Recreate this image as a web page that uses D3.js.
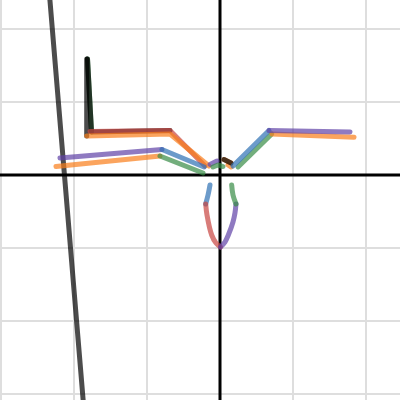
<!DOCTYPE html>
<html>
<head>
<meta charset="utf-8">
<script src="https://cdn.jsdelivr.net/npm/d3@7"></script>
<style>
  html, body { margin: 0; padding: 0; background: #fff; }
  svg { display: block; }
</style>
</head>
<body>
<div id="chart"></div>
<script>
// grid ticks (graph units)
const xTicks = [-3, -2, -1, 0, 1, 2];
const yTicks = [-3, -2, -1, 0, 1, 2];

// each stroke: colour + points [x, y]
const grayLine     = [[-2.38, 3.0], [-1.84, -3.5]];
const greenDiag    = [[-1.815, 1.589], [-1.760, 0.589]];
const blackVert    = [[-1.826, 1.589], [-1.826, 0.534]];
const blackBend    = [[-1.815, 1.589], [-1.760, 0.589], [-0.685, 0.610]];
const redUpper     = [[-1.781, 0.596], [-0.685, 0.610], [-0.205, 0.123]];
const orangeUpper  = [[-1.826, 0.534], [-0.685, 0.562], [-0.151, 0.123]];
const purpleLeft   = [[-2.192, 0.233], [-0.795, 0.349]];
const blueLeft     = [[-0.795, 0.349], [-0.219, 0.110]];
const orangeLower  = [[-2.247, 0.116], [-0.822, 0.260]];
const greenLeft    = [[-0.822, 0.260], [-0.233, 0.027]];
const purpleSmall  = [[-0.137, 0.144], [-0.041, 0.192]];
const greenSmall   = [[-0.096, 0.110], [-0.027, 0.137], [0.041, 0.116]];
const orangeSmall  = [[0.110, 0.137], [0.151, 0.110]];
const brownPiece   = [[0.055, 0.212], [0.151, 0.164]];
const blueRight    = [[0.178, 0.123], [0.671, 0.610]];
const greenRight   = [[0.247, 0.110], [0.708, 0.562]];
const purpleRight  = [[0.671, 0.610], [1.781, 0.589]];
const orangeRight  = [[0.712, 0.562], [1.836, 0.516]];
const blueBottom   = [[-0.137, -0.137], [-0.164, -0.274], [-0.196, -0.397]];
const redBottom    = [[-0.196, -0.397], [-0.178, -0.548], [-0.114, -0.822], [-0.055, -0.932], [0.007, -0.986]];
const purpleBottom = [[0.007, -0.986], [0.068, -0.918], [0.114, -0.822], [0.178, -0.644], [0.205, -0.521], [0.219, -0.397]];
const greenBottom  = [[0.219, -0.397], [0.178, -0.274], [0.160, -0.137]];

const RED = "#c74440", BLUE = "#2d70b3", GREEN = "#388c46",
      PURPLE = "#6042a6", ORANGE = "#fa7e19", BLACK = "#000000";

// drawing order matters for the overlaps
const strokes = [
    { pts: grayLine,     color: BLACK },
    { pts: greenDiag,    color: GREEN },
    { pts: blackVert,    color: BLACK },
    { pts: blackBend,    color: BLACK },
    { pts: redUpper,     color: RED },
    { pts: orangeUpper,  color: ORANGE },
    { pts: purpleLeft,   color: PURPLE },
    { pts: blueLeft,     color: BLUE },
    { pts: orangeLower,  color: ORANGE },
    { pts: greenLeft,    color: GREEN },
    { pts: purpleSmall,  color: PURPLE },
    { pts: greenSmall,   color: GREEN },
    { pts: orangeSmall,  color: ORANGE },
    { pts: brownPiece,   color: ORANGE },
    { pts: brownPiece,   color: BLACK },
    { pts: greenRight,   color: GREEN },
    { pts: blueRight,    color: BLUE },
    { pts: orangeRight,  color: ORANGE },
    { pts: purpleRight,  color: PURPLE },
    { pts: blueBottom,   color: BLUE, curved: true },
    { pts: redBottom,    color: RED, curved: true },
    { pts: purpleBottom, color: PURPLE, curved: true },
    { pts: greenBottom,  color: GREEN, curved: true }
];

const width = 400, height = 400;

const svg = d3.select("#chart")
    .append("svg")
        .attr("width", width)
        .attr("height", height);

// 1 unit = 73px, origin at (220, 175)
const x = d3.scaleLinear().domain([-220 / 73, 180 / 73]).range([0, width]);
const y = d3.scaleLinear().domain([-225 / 73, 175 / 73]).range([height, 0]);

// grid
svg.append("g")
    .selectAll("line.gx")
    .data(xTicks.filter(t => t !== 0))
    .enter()
    .append("line")
        .attr("x1", d => x(d)).attr("x2", d => x(d))
        .attr("y1", 0).attr("y2", height)
        .attr("stroke", "#dedede")
        .attr("stroke-width", 2);

svg.append("g")
    .selectAll("line.gy")
    .data(yTicks.filter(t => t !== 0))
    .enter()
    .append("line")
        .attr("y1", d => y(d)).attr("y2", d => y(d))
        .attr("x1", 0).attr("x2", width)
        .attr("stroke", "#dedede")
        .attr("stroke-width", 2);

// axes
svg.append("line")
    .attr("x1", 0).attr("x2", width)
    .attr("y1", y(0)).attr("y2", y(0))
    .attr("stroke", "#000")
    .attr("stroke-width", 3);

svg.append("line")
    .attr("x1", x(0)).attr("x2", x(0))
    .attr("y1", 0).attr("y2", height)
    .attr("stroke", "#000")
    .attr("stroke-width", 3);

const line = d3.line()
    .x(d => x(d[0]))
    .y(d => y(d[1]));

const curve = d3.line()
    .x(d => x(d[0]))
    .y(d => y(d[1]))
    .curve(d3.curveCatmullRom);

svg.selectAll(".stroke")
    .data(strokes)
    .enter()
    .append("path")
        .attr("class", "stroke")
        .attr("d", d => d.curved ? curve(d.pts) : line(d.pts))
        .attr("fill", "none")
        .attr("stroke", d => d.color)
        .attr("stroke-opacity", 0.7)
        .attr("stroke-width", 5)
        .attr("stroke-linecap", "round")
        .attr("stroke-linejoin", "round");
</script>
</body>
</html>
